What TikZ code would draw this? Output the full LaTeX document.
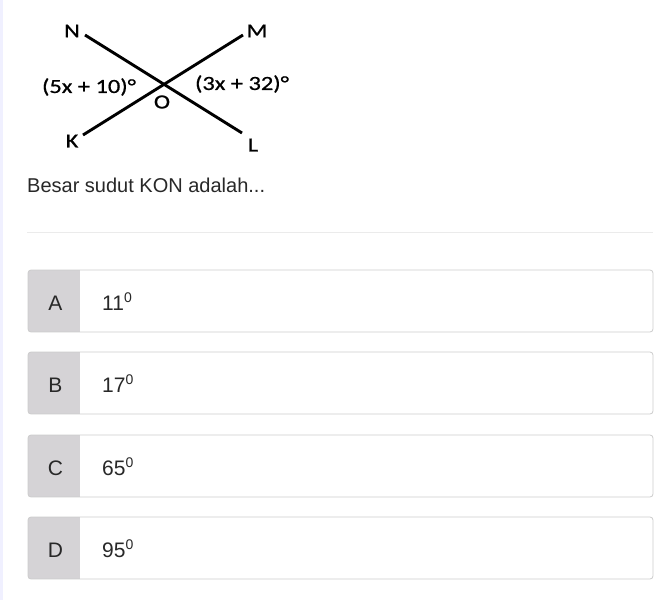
\documentclass[tikz,border=0pt]{standalone}
\usepackage{fontspec}
\setmainfont{Liberation Sans}
\newfontfamily\diafont[FakeStretch=1.22,FakeBold=0.8]{Carlito}
\definecolor{keygray}{RGB}{213,211,214}
\definecolor{txt}{RGB}{40,40,40}
\begin{document}
\begin{tikzpicture}[x=1pt,y=-1pt,
  lbl/.style={font=\diafont\fontsize{20}{20}\selectfont, inner sep=0pt},
  geo/.style={line width=2.9pt, black},
  optframe/.style={draw=black!20, line width=0.8pt, rounded corners=3pt},
  optkey/.style={font=\fontsize{21}{21}\selectfont, text=txt, inner sep=0pt},
  optval/.style={font=\fontsize{21}{21}\selectfont, text=txt, inner sep=0pt, anchor=base west}]
\useasboundingbox (0,0) rectangle (666,600);
\fill[white] (0,0) rectangle (666,600);
\fill[blue!6] (0,0) rectangle (2.5,600);
% geometry
\coordinate (n) at (85,35);
\coordinate (l) at (242,133);
\coordinate (m) at (243,35);
\coordinate (k) at (83,135);
\draw[geo] (n) -- (l);
\draw[geo] (m) -- (k);
\node[lbl] (N) at (72,31) {N};
\node[lbl] (M) at (257,31) {M};
\node[lbl] (K) at (72,141) {K};
\node[lbl] (L) at (253,145) {L};
\node[lbl] (O) at (162,102) {O};
\node[lbl] (a1) at (89,87) {(5x + 10)°};
\node[lbl] (a2) at (242,84) {(3x + 32)°};
% question
\node[font=\fontsize{20}{20}\selectfont, text=txt, anchor=west, inner sep=0pt] (q) at (27,185) {Besar sudut KON adalah...};
\draw[black!8, line width=0.8pt] (27,232) -- (653,232);
% options
\foreach \key/\val/\yt in {A/11/270, B/17/352, C/65/435, D/95/517}{
  \begin{scope}
    \clip[rounded corners=3pt] (28,\yt) rectangle (653,\yt+62);
    \fill[keygray] (28,\yt) rectangle (80,\yt+62);
  \end{scope}
  \draw[optframe] (28,\yt) rectangle (653,\yt+62);
  \node[optkey, anchor=base] (k\key) at (55.5,\yt+40) {\key};
  \node[optval] (v\key) at (102,\yt+40) {\val\raisebox{0.72ex}{\fontsize{14}{14}\selectfont 0}};
}
\end{tikzpicture}
\end{document}
